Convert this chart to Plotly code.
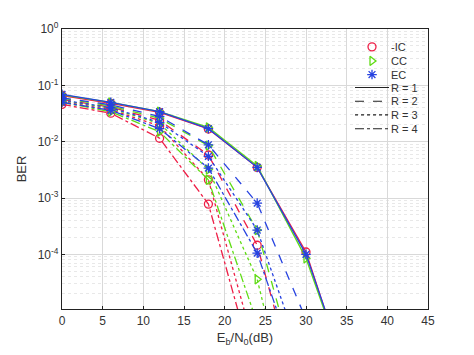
import plotly.graph_objects as go

# ---------------- data ----------------
ebn0 = [0, 6, 12, 18, 24, 30, 36]

ic_r1 = [0.066, 0.048, 0.033, 0.0168, 0.0035, 1.1e-4, 2.5e-7]
ic_r2 = [0.056, 0.041, 0.024, 0.0058, 1.45e-4, 1e-7, 1e-9]
ic_r3 = [0.051, 0.037, 0.019, 0.0021, 1.5e-6, 1e-9, 1e-11]
ic_r4 = [0.046, 0.032, 0.0115, 7.8e-4, 6e-7, 1e-9, 1e-11]

cc_r1 = [0.068, 0.050, 0.034, 0.018, 0.0037, 8.5e-5, 3e-7]
cc_r2 = [0.059, 0.043, 0.026, 0.0085, 2.7e-4, 2e-7, 1e-9]
cc_r3 = [0.054, 0.039, 0.021, 0.0032, 3.6e-5, 1e-8, 1e-10]
cc_r4 = [0.050, 0.034, 0.015, 0.0021, 6e-6, 1e-9, 1e-11]

ec_r1 = [0.069, 0.050, 0.034, 0.017, 0.0035, 1.0e-4, 3e-7]
ec_r2 = [0.060, 0.045, 0.028, 0.0088, 8.1e-4, 7e-6, 1e-8]
ec_r3 = [0.055, 0.040, 0.022, 0.0055, 2.7e-4, 9e-7, 1e-9]
ec_r4 = [0.050, 0.036, 0.017, 0.0034, 1.05e-4, 3.6e-7, 1e-9]

scheme_names = ["-IC", "CC", "EC"]
rate_names = ["R = 1", "R = 2", "R = 3", "R = 4"]
y_tickvals = [1, 1e-1, 1e-2, 1e-3, 1e-4]
y_ticktext = ["10<sup>0</sup>", "10<sup>-1</sup>", "10<sup>-2</sup>",
              "10<sup>-3</sup>", "10<sup>-4</sup>"]

# ---------------- styles ----------------
colors = ["#ee1e46", "#5fdc14", "#2642e0"]
symbols = ["circle-open", "triangle-right-open", "asterisk-open"]
dashes = ["solid", "dash", "dot", "dashdot"]
series = [[ic_r1, ic_r2, ic_r3, ic_r4],
          [cc_r1, cc_r2, cc_r3, cc_r4],
          [ec_r1, ec_r2, ec_r3, ec_r4]]

fig = go.Figure()
for si, group in enumerate(series):
    for ri, vals in enumerate(group):
        fig.add_trace(go.Scatter(
            x=ebn0, y=vals, mode="lines+markers",
            line=dict(color=colors[si], dash=dashes[ri], width=1.3),
            marker=dict(symbol=symbols[si], size=8, color=colors[si],
                        line=dict(width=1.3, color=colors[si])),
            showlegend=False, hoverinfo="skip"))

# ---------------- manual legend (overlay axes 0..1) ----------------
# page coordinates of the plot area: x 62..428, y 26..313
W, H = 366.0, 287.0
def nx(px):
    return (px - 62) / W
def ny(py):
    return (313 - py) / H

leg_y = [44.3, 58.7, 72.7, 86, 100, 114, 128.3]
for i in range(3):
    fig.add_trace(go.Scatter(
        x=[nx(372)], y=[ny(leg_y[i])], xaxis="x2", yaxis="y2", mode="markers",
        marker=dict(symbol=symbols[i], size=8, color=colors[i],
                    line=dict(width=1.3, color=colors[i])),
        showlegend=False, hoverinfo="skip"))
for j in range(4):
    yy = ny(leg_y[3 + j])
    fig.add_trace(go.Scatter(
        x=[nx(355), nx(389)], y=[yy, yy], xaxis="x2", yaxis="y2", mode="lines",
        line=dict(color="#222222", dash=dashes[j], width=1.1),
        showlegend=False, hoverinfo="skip"))

labels = scheme_names + rate_names
for k, lab in enumerate(labels):
    fig.add_annotation(x=nx(389), y=ny(leg_y[k]), xref="paper", yref="paper",
                       text=lab, showarrow=False, xanchor="left", yanchor="middle",
                       font=dict(family="Liberation Sans, Arial", size=11, color="#333333"))

axis_font = dict(family="Liberation Sans, Arial", size=12, color="#333333")
fig.update_layout(
    width=466, height=347,
    margin=dict(l=54, r=46, t=18, b=42),
    paper_bgcolor="white", plot_bgcolor="white",
    showlegend=False,
    font=axis_font,
    xaxis=dict(range=[0, 45], dtick=5, tick0=0,
               showgrid=True, gridcolor="#d9d9d9", gridwidth=1,
               showline=True, linecolor="#222222", linewidth=1.3, mirror=True,
               ticks="inside", ticklen=3, tickcolor="#222222",
               zeroline=False, tickfont=axis_font,
               title=dict(text="E<sub>b</sub>/N<sub>0</sub>(dB)",
                          font=dict(family="Liberation Sans, Arial", size=13, color="#333333"),
                          standoff=6)),
    yaxis=dict(type="log", range=[-4.97, 0],
               tickvals=y_tickvals, ticktext=y_ticktext,
               showgrid=True, gridcolor="#d9d9d9", gridwidth=1,
               minor=dict(dtick="D1", showgrid=True, gridcolor="#e8e8e8",
                          griddash="dot", ticks=""),
               showline=True, linecolor="#222222", linewidth=1.3, mirror=True,
               ticks="inside", ticklen=3, tickcolor="#222222",
               zeroline=False, tickfont=axis_font,
               title=dict(text="BER",
                          font=dict(family="Liberation Sans, Arial", size=13, color="#333333"),
                          standoff=8)),
    xaxis2=dict(overlaying="x", range=[0, 1], visible=False, fixedrange=True),
    yaxis2=dict(overlaying="y", range=[0, 1], visible=False, fixedrange=True),
)

fig.write_html("out.html")
